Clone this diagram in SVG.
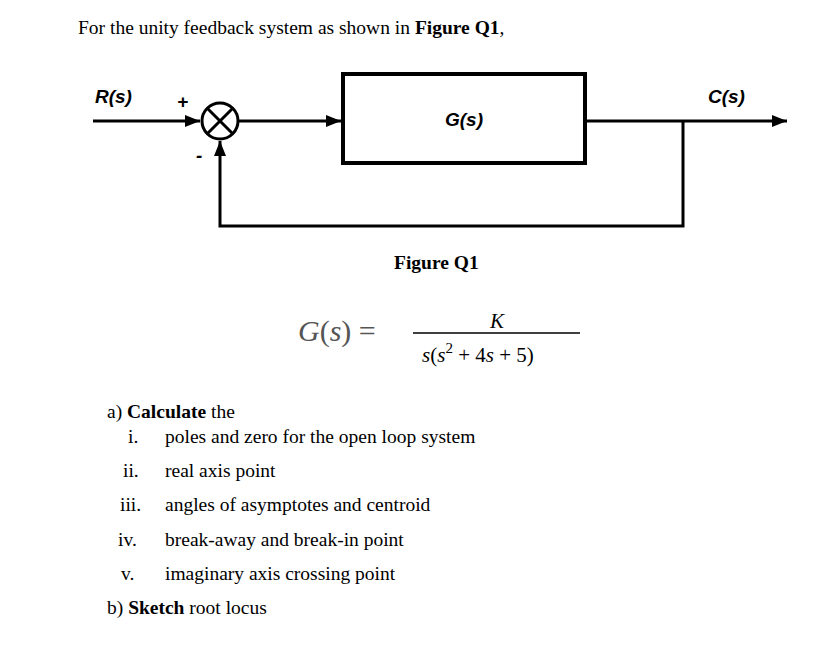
<svg xmlns="http://www.w3.org/2000/svg" width="815" height="663" viewBox="0 0 815 663">
<style>
.t{font-family:"Liberation Serif",serif;font-size:19.5px;fill:#000}
.b{font-weight:bold}
.d{font-family:"Liberation Sans",sans-serif;font-style:italic;font-weight:bold;font-size:19px}
.w{stroke:#000;stroke-width:3;fill:none}
</style>
<defs><marker id="a" viewBox="0 0 10 10" refX="10" refY="5" markerWidth="6" markerHeight="5" orient="auto" markerUnits="strokeWidth"><path d="M0,1L10,5L0,9z" fill="#000"/></marker></defs>
<rect width="815" height="663" fill="#fff"/>
<text class="t" x="78" y="34">For the unity feedback system as shown in <tspan class="b">Figure Q1</tspan>,</text>
<g id="sum"><circle cx="220" cy="121" r="18" class="w"/><path d="M207,108L233,134M233,108L207,134" class="w"/><text class="d" x="177" y="108" font-style="normal">+</text><text class="d" x="196" y="162" font-style="normal">-</text></g>
<g id="block"><rect x="343" y="74" width="242" height="89" stroke="#000" stroke-width="4" fill="none"/><text class="d" x="445" y="126">G(s)</text></g>
<g id="labels"><text class="d" x="95" y="103">R(s)</text><text class="d" x="708" y="103">C(s)</text></g>
<g id="connectors">
<path d="M93,121H200" class="w" marker-end="url(#a)"/>
<path d="M238,121H341" class="w" marker-end="url(#a)"/>
<path d="M585,121H787" class="w" marker-end="url(#a)"/>
<path d="M683,121V226H220V141" class="w" marker-end="url(#a)"/>
</g>
<text class="t b" x="394" y="269">Figure Q1</text>
<g id="eq" font-family="Liberation Serif,serif">
<text x="298" y="341" font-size="30" fill="#555"><tspan font-style="italic">G</tspan>(<tspan font-style="italic">s</tspan>) =</text>
<text x="490" y="328" font-size="21" font-style="italic">K</text>
<line x1="413" y1="333" x2="580" y2="333" stroke="#000" stroke-width="1.5"/>
<text x="422" y="362" font-size="21"><tspan font-style="italic">s</tspan>(<tspan font-style="italic">s</tspan><tspan font-size="15" dy="-9">2</tspan><tspan dy="9"> + 4</tspan><tspan font-style="italic">s</tspan> + 5)</text>
</g>
<g class="t">
<text x="107" y="418">a)  <tspan class="b">Calculate</tspan> the</text>
<text x="128" y="443">i.</text><text x="165" y="443">poles and zero for the open loop system</text>
<text x="123" y="477">ii.</text><text x="165" y="477">real axis point</text>
<text x="120" y="511">iii.</text><text x="165" y="511">angles of asymptotes and centroid</text>
<text x="118" y="546">iv.</text><text x="165" y="546">break-away and break-in point</text>
<text x="121" y="580">v.</text><text x="165" y="580">imaginary axis crossing point</text>
<text x="107" y="614">b)  <tspan class="b">Sketch</tspan> root locus</text>
</g>
</svg>
